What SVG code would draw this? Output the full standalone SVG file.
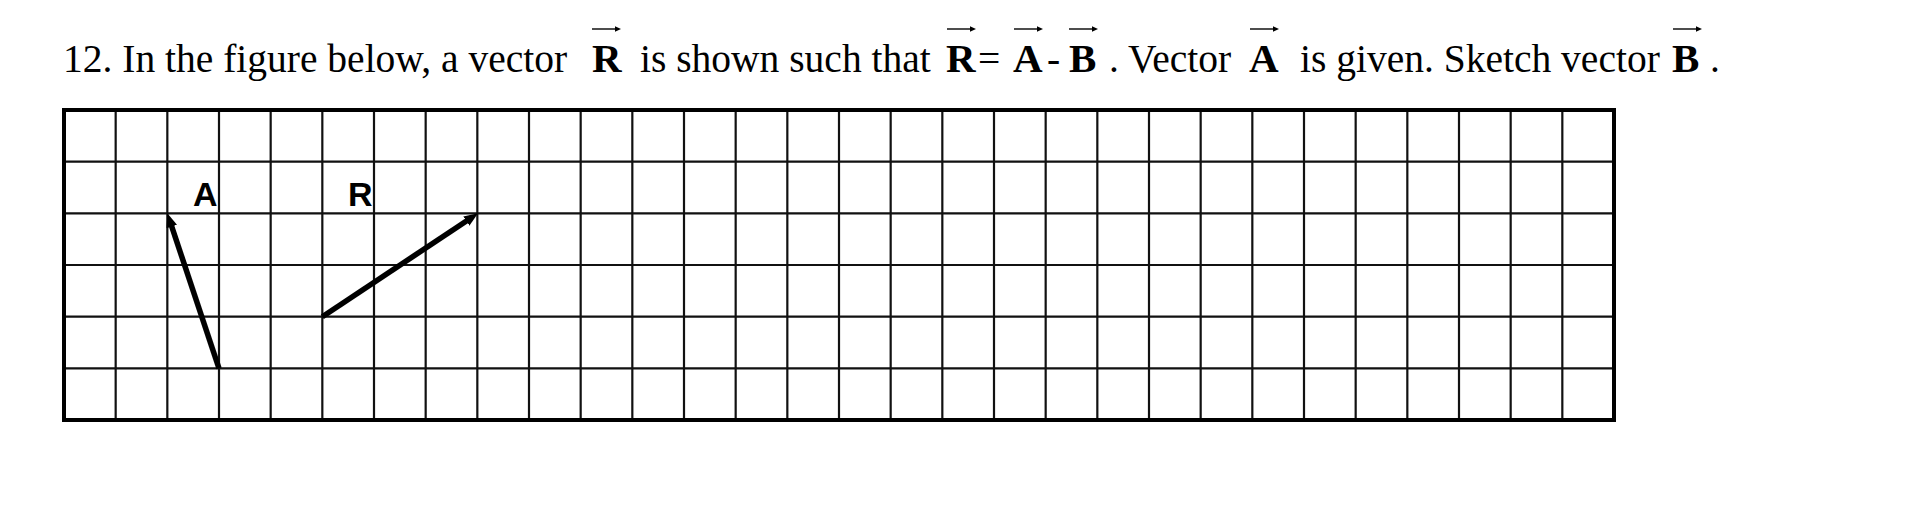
<svg xmlns="http://www.w3.org/2000/svg" width="1914" height="508" viewBox="0 0 1914 508">
<style>
.t{font-family:"Liberation Serif","Times New Roman",serif;font-size:39.5px;fill:#000}
.tb{font-family:"Liberation Serif","Times New Roman",serif;font-size:41px;font-weight:bold;fill:#000}
.lbl{font-family:"Liberation Sans",Arial,sans-serif;font-size:34px;font-weight:bold;fill:#000}
.ov{stroke:#000;stroke-width:1.4;fill:none}
.ovh{fill:#000}
.grid{stroke:#111;stroke-width:2.2;fill:none}
.border{stroke:#000;stroke-width:4;fill:none}
.vec{stroke:#000;stroke-width:5.5;fill:none;marker-end:url(#ah)}
</style>
<defs>
<marker id="ah" markerUnits="userSpaceOnUse" markerWidth="18" markerHeight="14" viewBox="0 -7 18 14" refX="6" refY="0" orient="auto">
<path d="M0,-5.5 L14,0 L0,5.5 Z" fill="#000"/>
</marker>
<g id="ovarrow"><path class="ov" d="M0,0 L24,0"/><path class="ovh" d="M23,-2.8 L29,0 L23,2.8 Z"/></g>
</defs>
<rect width="1914" height="508" fill="#fff"/>
<g id="title">
<text class="t" x="63" y="72">12. In the figure below, a vector</text>
<text class="tb" x="592" y="72">R</text>
<use href="#ovarrow" x="592" y="29"/>
<text class="t" x="640" y="72">is shown such that</text>
<text class="tb" x="946" y="72">R</text>
<use href="#ovarrow" x="947" y="29"/>
<text class="t" x="978" y="72">=</text>
<text class="tb" x="1013" y="72">A</text>
<use href="#ovarrow" x="1014" y="29"/>
<text class="t" x="1047" y="72">-</text>
<text class="tb" x="1069" y="72">B</text>
<use href="#ovarrow" x="1069" y="29"/>
<text class="t" x="1109" y="72">.</text>
<text class="t" x="1128" y="72">Vector</text>
<text class="tb" x="1249" y="72">A</text>
<use href="#ovarrow" x="1250" y="29"/>
<text class="t" x="1300" y="72">is given. Sketch vector</text>
<text class="tb" x="1672" y="72">B</text>
<use href="#ovarrow" x="1673" y="29"/>
<text class="t" x="1710" y="72">.</text>
</g>
<g id="grid">
<path class="grid" d="M115.67,110V420M167.33,110V420M219,110V420M270.67,110V420M322.33,110V420M374,110V420M425.67,110V420M477.33,110V420M529,110V420M580.67,110V420M632.33,110V420M684,110V420M735.67,110V420M787.33,110V420M839,110V420M890.67,110V420M942.33,110V420M994,110V420M1045.67,110V420M1097.33,110V420M1149,110V420M1200.67,110V420M1252.33,110V420M1304,110V420M1355.67,110V420M1407.33,110V420M1459,110V420M1510.67,110V420M1562.33,110V420"/>
<path class="grid" d="M64,161.67H1614M64,213.33H1614M64,265H1614M64,316.67H1614M64,368.33H1614"/>
<rect class="border" x="64" y="110" width="1550" height="310"/>
</g>
<g id="node-A">
<text class="lbl" x="193" y="206">A</text>
</g>
<g id="node-R">
<text class="lbl" x="348" y="206">R</text>
</g>
<g id="connectors">
<path id="vec-A" class="vec" d="M219,368.33 L169.86,220.92"/>
<path id="vec-R" class="vec" d="M322.33,316.67 L471.34,217.75"/>
</g>
</svg>
